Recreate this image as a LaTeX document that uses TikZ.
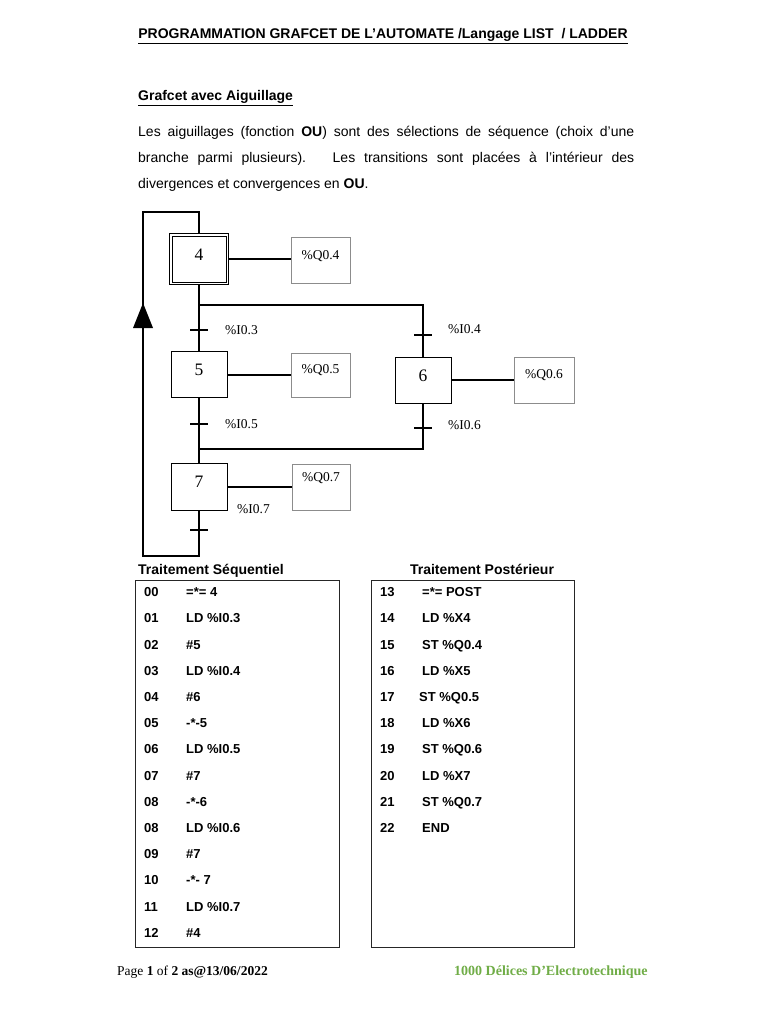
\documentclass[tikz,border=0pt]{standalone}
\usepackage{fontspec}
\setmainfont{Liberation Serif}
\newfontfamily\arialf{Liberation Sans}
\definecolor{greenft}{RGB}{112,173,71}
\begin{document}
\begin{tikzpicture}[x=1pt,y=-1pt,
  stepbox/.style={draw, line width=0.9pt, minimum width=56pt, minimum height=46pt, inner sep=0pt},
  steptext/.style={font=\fontsize{17.5}{19}\selectfont, inner sep=0pt},
  actbox/.style={draw=black!45, line width=0.8pt, minimum width=59pt, minimum height=46pt, inner sep=0pt},
  acttext/.style={font=\fontsize{13.5}{15}\selectfont, inner sep=0pt},
  link/.style={line width=1.3pt},
  tickmark/.style={line width=1.3pt},
  cond/.style={font=\fontsize{13.5}{15}\selectfont, anchor=west, inner sep=0pt},
  tabbox/.style={draw=black!85, line width=0.9pt, inner sep=0pt},
  row/.style={font=\arialf\bfseries\fontsize{13}{15}\selectfont, anchor=base west, inner sep=0pt},
  heading/.style={font=\arialf\bfseries\fontsize{14}{16}\selectfont, inner sep=0pt},
  para/.style={font=\arialf\fontsize{14}{16}\selectfont, anchor=base west, inner sep=0pt}
]
\useasboundingbox[fill=white] (0,0) rectangle (768,1024);

% ---- title and text
\node[heading, anchor=base] (title) at (383,39) {\underline{PROGRAMMATION GRAFCET DE L’AUTOMATE /Langage LIST\ \ / LADDER}};
\node[heading, anchor=base west] (sub) at (138,101) {\underline{Grafcet avec Aiguillage}};
\node[para] (p1) at (138,137) {\makebox[496pt][s]{Les aiguillages (fonction \textbf{OU}) sont des sélections de séquence (choix d’une}};
\node[para] (p2) at (138,163) {\makebox[496pt][s]{branche parmi plusieurs).\ \ \ Les transitions sont placées à l’intérieur des}};
\node[para] (p3) at (138,189) {divergences et convergences en \textbf{OU}.};

% ---- steps
\node[stepbox, minimum width=59pt, minimum height=51pt] (s4) at (199,259) {};
\draw[line width=0.9pt] ([shift={(3pt,-3pt)}]s4.north west) rectangle ([shift={(-3pt,3pt)}]s4.south east);
\node[stepbox] (s5) at (199,374) {};
\node[stepbox] (s6) at (423,380) {};
\node[stepbox, minimum height=47pt] (s7) at (199,486.5) {};
\node[steptext] (s4t) at ([yshift=4pt]s4.center) {4};
\node[steptext] (s5t) at ([yshift=4.5pt]s5.center) {5};
\node[steptext] (s6t) at ([yshift=4.5pt]s6.center) {6};
\node[steptext] (s7t) at ([yshift=5pt]s7.center) {7};

% ---- actions
\node[actbox] (a4) at (320.5,260) {};
\node[acttext] (a4t) at ([yshift=4pt]a4.center) {\%Q0.4};
\node[actbox, minimum height=44pt] (a5) at (320.5,375) {};
\node[acttext] (a5t) at ([yshift=5pt]a5.center) {\%Q0.5};
\node[actbox, minimum width=60pt] (a6) at (544,380) {};
\node[acttext] (a6t) at ([yshift=5pt]a6.center) {\%Q0.6};
\node[actbox, minimum width=58pt] (a7) at (321,487) {};
\node[acttext] (a7t) at ([yshift=9pt]a7.center) {\%Q0.7};

\draw[link] (s4.east) -- (s4.east -| a4.west);
\draw[link] (s5.east |- a5.west) -- (a5.west);
\draw[link] (s6.east) -- (a6.west);
\draw[link] (s7.east |- a7.west) -- (a7.west);

% ---- divergence / convergence
\coordinate (div) at (199,305);
\coordinate (divr) at (423,305);
\coordinate (conv) at (199,449);
\coordinate (convr) at (423,449);
\draw[link] (s4.south) -- (div) -- (s5.north);
\draw[link] (div) -- (divr) -- (s6.north);
\draw[link] (s5.south) -- (s7.north);
\draw[link] (s6.south) -- (convr) -- (conv);

% ---- loop back
\coordinate (lb1) at (199,556);
\coordinate (lb2) at (143,556);
\coordinate (lb3) at (143,212);
\coordinate (lb4) at (199,212);
\draw[link] (s7.south) -- (lb1) -- (lb2) -- (lb3) -- (lb4) -- (s4.north);
\coordinate (arrtip) at (143,303);
\fill (arrtip) -- ++(10,25) -- ++(-20,0) -- cycle;

% ---- transitions
\coordinate (t3) at (199,330);
\coordinate (t4) at (423,335);
\coordinate (t5) at (199,424);
\coordinate (t6) at (423,428);
\coordinate (t7) at (199,530);
\foreach \t in {t3,t4,t5,t6,t7}
  \draw[tickmark] ([xshift=-9pt]\t) -- ([xshift=9pt]\t);
\node[cond] (c3) at (225,330) {\%I0.3};
\node[cond] (c4) at (448,329) {\%I0.4};
\node[cond] (c5) at (225,424) {\%I0.5};
\node[cond] (c6) at (448,425) {\%I0.6};
\node[cond] (c7) at (237,509) {\%I0.7};

% ---- tables
\node[heading, anchor=base west] (h1) at (138,574) {Traitement Séquentiel};
\node[heading, anchor=base] (h2) at (482,574) {Traitement Postérieur};
\node[tabbox, minimum width=204pt, minimum height=367pt] (tab1) at (237,763.5) {};
\node[tabbox, minimum width=203pt, minimum height=367pt] (tab2) at (472.5,763.5) {};

\foreach \n/\c [count=\i from 0] in {00/{=*= 4},01/{LD \%I0.3},02/{\#5},03/{LD \%I0.4},04/{\#6},05/{-*-5},06/{LD \%I0.5},07/{\#7},08/{-*-6},08/{LD \%I0.6},09/{\#7},10/{-*- 7},11/{LD \%I0.7},12/{\#4}}{
  \node[row] (ln\i) at (144,596.7+\i*26.2) {\n};
  \node[row] (lc\i) at (186,596.7+\i*26.2) {\c};
}
\foreach \n/\c/\xx [count=\i from 0] in {13/{=*= POST}/422,14/{LD \%X4}/422,15/{ST \%Q0.4}/422,16/{LD \%X5}/422,17/{ST \%Q0.5}/419,18/{LD \%X6}/422,19/{ST \%Q0.6}/422,20/{LD \%X7}/422,21/{ST \%Q0.7}/422,22/{END}/422}{
  \node[row] (rn\i) at (380,596.7+\i*26.2) {\n};
  \node[row] (rc\i) at (\xx,596.7+\i*26.2) {\c};
}

% ---- footer
\node[anchor=base west, inner sep=0pt, font=\fontsize{13.5}{15}\selectfont] (page) at (117,975) {Page \textbf{1} of \textbf{2 as@13/06/2022}};
\node[anchor=base west, inner sep=0pt, text=greenft, font=\bfseries\fontsize{14}{16}\selectfont] (brand) at (454,975) {1000 Délices D’Electrotechnique};
\end{tikzpicture}
\end{document}
